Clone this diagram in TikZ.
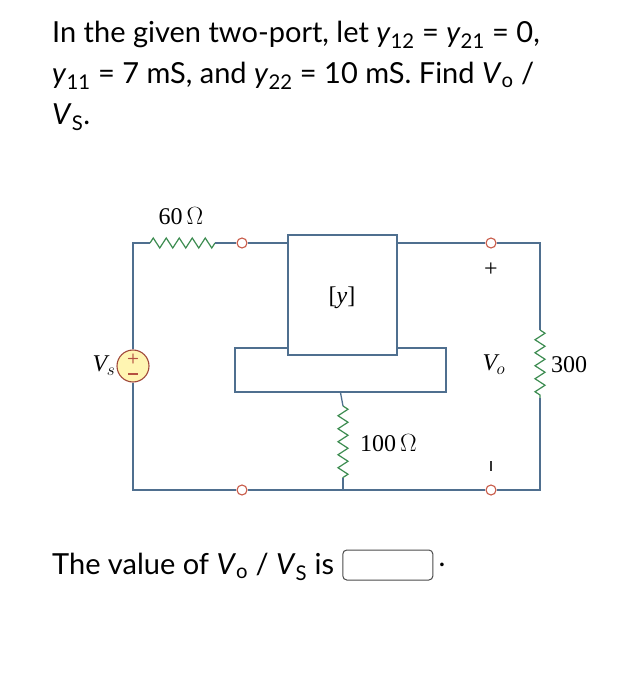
\documentclass[tikz,border=0pt]{standalone}
\usepackage{fontspec}
\setmainfont{Lato}
\newfontfamily\ser{Liberation Serif}
\usetikzlibrary{decorations.pathmorphing}
\definecolor{wire}{HTML}{4F6F8F}
\definecolor{res}{HTML}{3C8C50}
\definecolor{term}{HTML}{C85A48}
\begin{document}
\begin{tikzpicture}[x=1pt,y=-1pt,
  w/.style={draw=wire,line width=1.3pt},
  r/.style={draw=res,line width=1.2pt,decorate,decoration={zigzag,segment length=13pt,amplitude=5pt}},
  t/.style={circle,draw=term,fill=white,line width=1.1pt,inner sep=0pt,minimum size=10pt},
  q/.style={font=\fontsize{29}{32}\selectfont,anchor=west,inner sep=0pt},
  c/.style={font=\ser\fontsize{24}{26}\selectfont,inner sep=0pt}]
\useasboundingbox (0,0) rectangle (616,700);
\fill[white] (0,0) rectangle (616,700);
\node[q] (l1) at (52,35) {In the given two-port, let \textit{y}$_{\mathrm{12}}$ = \textit{y}$_{\mathrm{21}}$ = 0,};
\node[q] (l2) at (52,76) {\textit{y}$_{\mathrm{11}}$ = 7 mS, and \textit{y}$_{\mathrm{22}}$ = 10 mS. Find \textit{V}$_{\mathrm{o}}$ /};
\node[q] (l3) at (52,117) {\textit{V}$_{\mathrm{S}}$.};
\coordinate (tl) at (133,243);
\coordinate (bl) at (133,490);
\coordinate (tr) at (540,243);
\coordinate (br) at (540,490);
\coordinate (r6a) at (150,243);
\coordinate (r6b) at (215,243);
\node[t] (t1) at (242,243) {};
\node[t] (t2) at (242,490) {};
\node[t] (t3) at (491,243) {};
\node[t] (t4) at (491,490) {};
\node[draw=wire,line width=1.3pt,fill=white,minimum width=211pt,minimum height=44pt,inner sep=0pt] (low) at (340.5,370) {};
\node[draw=wire,line width=1.3pt,fill=white,minimum width=109pt,minimum height=120pt,inner sep=0pt] (box) at (342.5,295) {};
\node[c] (yl) at (342,298) {[\textit{y}]};
\node[circle,draw=term!80!black,fill=orange!25!yellow!30,line width=1.1pt,minimum size=32pt,inner sep=0pt] (src) at (133,366) {};
\node[text=term!90!black,font=\sffamily\bfseries\fontsize{14}{14}\selectfont] (sp) at (133,359) {+};
\draw[term!90!black,line width=1.3pt] (128,374) -- (138,374);
\node[c,anchor=center] (vs) at (104,366) {\textit{V}$_{\!s}$};
\coordinate (ra) at (343,406);
\coordinate (rb) at (343,478);
\coordinate (rc) at (540,330);
\coordinate (rd) at (540,398);
\draw[w] (src.north) -- (tl) -- (r6a);
\draw[r] (r6a) -- (r6b);
\draw[w] (r6b) -- (t1.west);
\draw[w] (t1.east) -- (box.west |- t1);
\draw[w] (box.east |- t3) -- (t3.west);
\draw[w] (t3.east) -- (tr) -- (rc);
\draw[r] (rc) -- (rd);
\draw[w] (rd) -- (br) -- (t4.east);
\draw[w] (t4.west) -- (343,490) -- (t2.east);
\draw[w] (t2.west) -- (bl) -- (src.south);
\draw[w] (low.south) -- (ra);
\draw[r] (ra) -- (rb);
\draw[w] (rb) -- (343,490);
\node[c] (l60) at (181,216) {60\,$\Omega$};
\node[c,anchor=west] (l100) at (360,443) {100\,$\Omega$};
\node[c,anchor=west] (l300) at (551,365) {300};
\node[c] (vo) at (494,365) {\textit{V}$_{\!o}$};
\node[c] (pl) at (491,270) {+};
\draw[black!80,line width=1.4pt] (491,461) -- (491,471);
\node[q] (ans) at (52,567) {The value of \textit{V}$_{\mathrm{o}}$ / \textit{V}$_{\mathrm{S}}$ is};
\node[draw=black!70,line width=1pt,rounded corners=4pt,minimum width=90pt,minimum height=30pt,inner sep=0pt,anchor=west] (ab) at ([xshift=8pt,yshift=2pt]ans.east) {};
\node[q] (dot) at ([xshift=5pt]ab.east) {.};
\end{tikzpicture}
\end{document}
